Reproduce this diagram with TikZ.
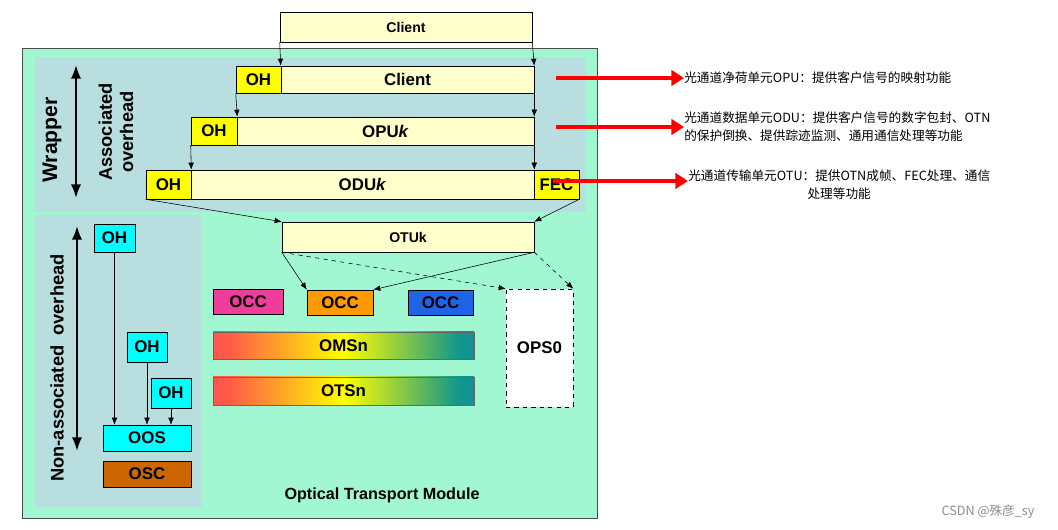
\documentclass[tikz,border=0pt]{standalone}
\usepackage{fontspec}
\setmainfont{Liberation Sans}
\newfontfamily\cjk{Noto Sans CJK SC}
\usetikzlibrary{arrows.meta}
\definecolor{mint}{HTML}{A0F7D2}
\definecolor{panel}{HTML}{B9DEE0}
\definecolor{pale}{HTML}{FFFFCC}
\definecolor{ohyel}{HTML}{FFFF00}
\definecolor{ohcyan}{HTML}{00FFFF}
\definecolor{oscbrown}{HTML}{CC6600}
\definecolor{occpink}{HTML}{F03C9B}
\definecolor{occorange}{HTML}{FF9900}
\definecolor{occblue}{HTML}{1E64E6}
\definecolor{gred}{HTML}{FF5A46}
\definecolor{gteal}{HTML}{12968C}
\pgfdeclarehorizontalshading{rainbow}{100bp}{color(0bp)=(occpink); color(28bp)=(gred); color(50bp)=(ohyel); color(72bp)=(gteal); color(100bp)=(occblue)}

\begin{document}
\begin{tikzpicture}[x=0.025cm, y=-0.025cm,
        nodes={draw, inner sep=0, font=\bfseries\fontsize{12}{12}\selectfont},
        sz/.style 2 args={minimum width=#1*0.025cm, minimum height=#2*0.025cm},
        bar/.style={fill=pale},
        oh/.style={fill=ohyel},
        soh/.style={fill=ohcyan},
        bar2/.style={shading=rainbow, draw=black!60},
        link/.style={-{Latex[length=5pt, width=4pt]}, thin},
        red/.style={draw=red, line width=3pt, -{Triangle[length=9pt, width=11pt]}},
        note/.style={draw=none, anchor=west, align=left, font=\cjk\fontsize{9}{13}\selectfont}]
    \useasboundingbox (0,0) rectangle (1058,530);
    % background panels
    \fill [mint, draw=black!70] (22,48) rectangle (597,518);
    \fill [panel] (35,57) rectangle (586,212);
    \fill [panel] (35,215) rectangle (202,507);

    % wrapper
    \node (c0) [bar, sz={252}{30}, font=\bfseries\fontsize{10}{10}\selectfont] at (406,27) {Client};
    \node (oh1) [oh, sz={45}{27}] at (258.5,79.5) {OH};
    \node (c1) [bar, sz={253}{27}] at (407.5,79.5) {Client};
    \node (oh2) [oh, sz={46}{28}] at (214,131) {OH};
    \node (opu) [bar, sz={297}{28}] at (385.5,131) {OPU\textit{k}};
    \node (oh3) [oh, sz={45}{29}] at (168.5,184.5) {OH};
    \node (odu) [bar, sz={343}{29}] at (362.5,184.5) {ODU\textit{k}};
    \node (fec) [oh, sz={45}{29}] at (556.5,184.5) {FEC};
    \node (otu) [bar, sz={252}{30}, font=\bfseries\fontsize{10}{10}\selectfont] at (408,237) {OTUk};

    \draw [link] (c0.south west) -- (c1.north west);
    \draw [link] (c0.south east) -- (c1.north east);
    \draw [link] (oh1.south west) -- (oh2.north east);
    \draw [link] (c1.south east) -- (opu.north east);
    \draw [link] (oh2.south west) -- (oh3.north east);
    \draw [link] (opu.south east) -- (odu.north east);
    \draw [link] (oh3.south west) -- (otu.north west);
    \draw [link] (fec.south east) -- (otu.north east);

    % optical layers
    \node (occa) [fill=occpink, sz={70}{25}] at (248,301.5) {OCC};
    \node (occb) [fill=occorange, sz={66}{25}] at (340,302.5) {OCC};
    \node (occc) [fill=occblue, sz={65}{25}] at (440.5,302.5) {OCC};
    \node (ops) [fill=white, dashed, sz={67}{118}] at (539.5,348) {OPS0};
    \node (oms) [bar2, sz={261}{27}] at (343.5,345.5) {OMSn};
    \node (ots) [bar2, sz={261}{28}] at (343.5,391) {OTSn};

    \draw [link] (otu.south west) -- (occb.north west);
    \draw [link] (otu.south east) -- (occb.north east);
    \draw [link, dashed] (otu.south west) -- (ops.north west);
    \draw [link, dashed] (otu.south east) -- (ops.north east);

    % non-associated overhead
    \node (oha) [soh, sz={41}{28}] at (114.5,238) {OH};
    \node (ohb) [soh, sz={40}{30}] at (147,347) {OH};
    \node (ohc) [soh, sz={40}{30}] at (171,393) {OH};
    \node (oos) [soh, sz={88}{26}] at (147,438) {OOS};
    \node (osc) [fill=oscbrown, sz={88}{26}] at (147,474) {OSC};
    \foreach \s in {oha, ohb, ohc}
        \draw [link] (\s.south) -- (\s.south |- oos.north);

    % side labels
    \draw [Latex-Latex, line width=1.5pt] (76,65) -- (76,198);
    \draw [Latex-Latex, line width=1.5pt] (77,226) -- (77,451);
    \node [draw=none, rotate=90, font=\bfseries\fontsize{15}{15}\selectfont] at (52,140) {Wrapper};
    \node [draw=none, rotate=90, align=center, font=\bfseries\fontsize{13}{15}\selectfont] at (116,132) {Associated\\overhead};
    \node [draw=none, rotate=90, font=\bfseries\fontsize{13}{13}\selectfont] at (57,368) {Non-associated\ \ overhead};
    \node [draw=none, font=\bfseries\fontsize{11.5}{12}\selectfont] at (382,495) {Optical Transport Module};

    % notes
    \node (n1) [note] at (684,78) {光通道净荷单元OPU：提供客户信号的映射功能};
    \node (n2) [note] at (684,127) {光通道数据单元ODU：提供客户信号的数字包封、OTN\\的保护倒换、提供踪迹监测、通用通信处理等功能};
    \node (n3) [note, align=center] at (688,185) {光通道传输单元OTU：提供OTN成帧、FEC处理、通信\\处理等功能};
    \coordinate (r1) at (556,78);
    \coordinate (r2) at (556,127);
    \coordinate (r3) at (553,181);
    \draw [red] (r1) -- (n1.west);
    \draw [red] (r2) -- (n2.west);
    \draw [red] (r3) -- (n3.west |- r3);
    \node [draw=none, text=black!45, font=\cjk\fontsize{9}{9}\selectfont] at (988,512) {CSDN @殊彦\_sy};
\end{tikzpicture}
\end{document}
